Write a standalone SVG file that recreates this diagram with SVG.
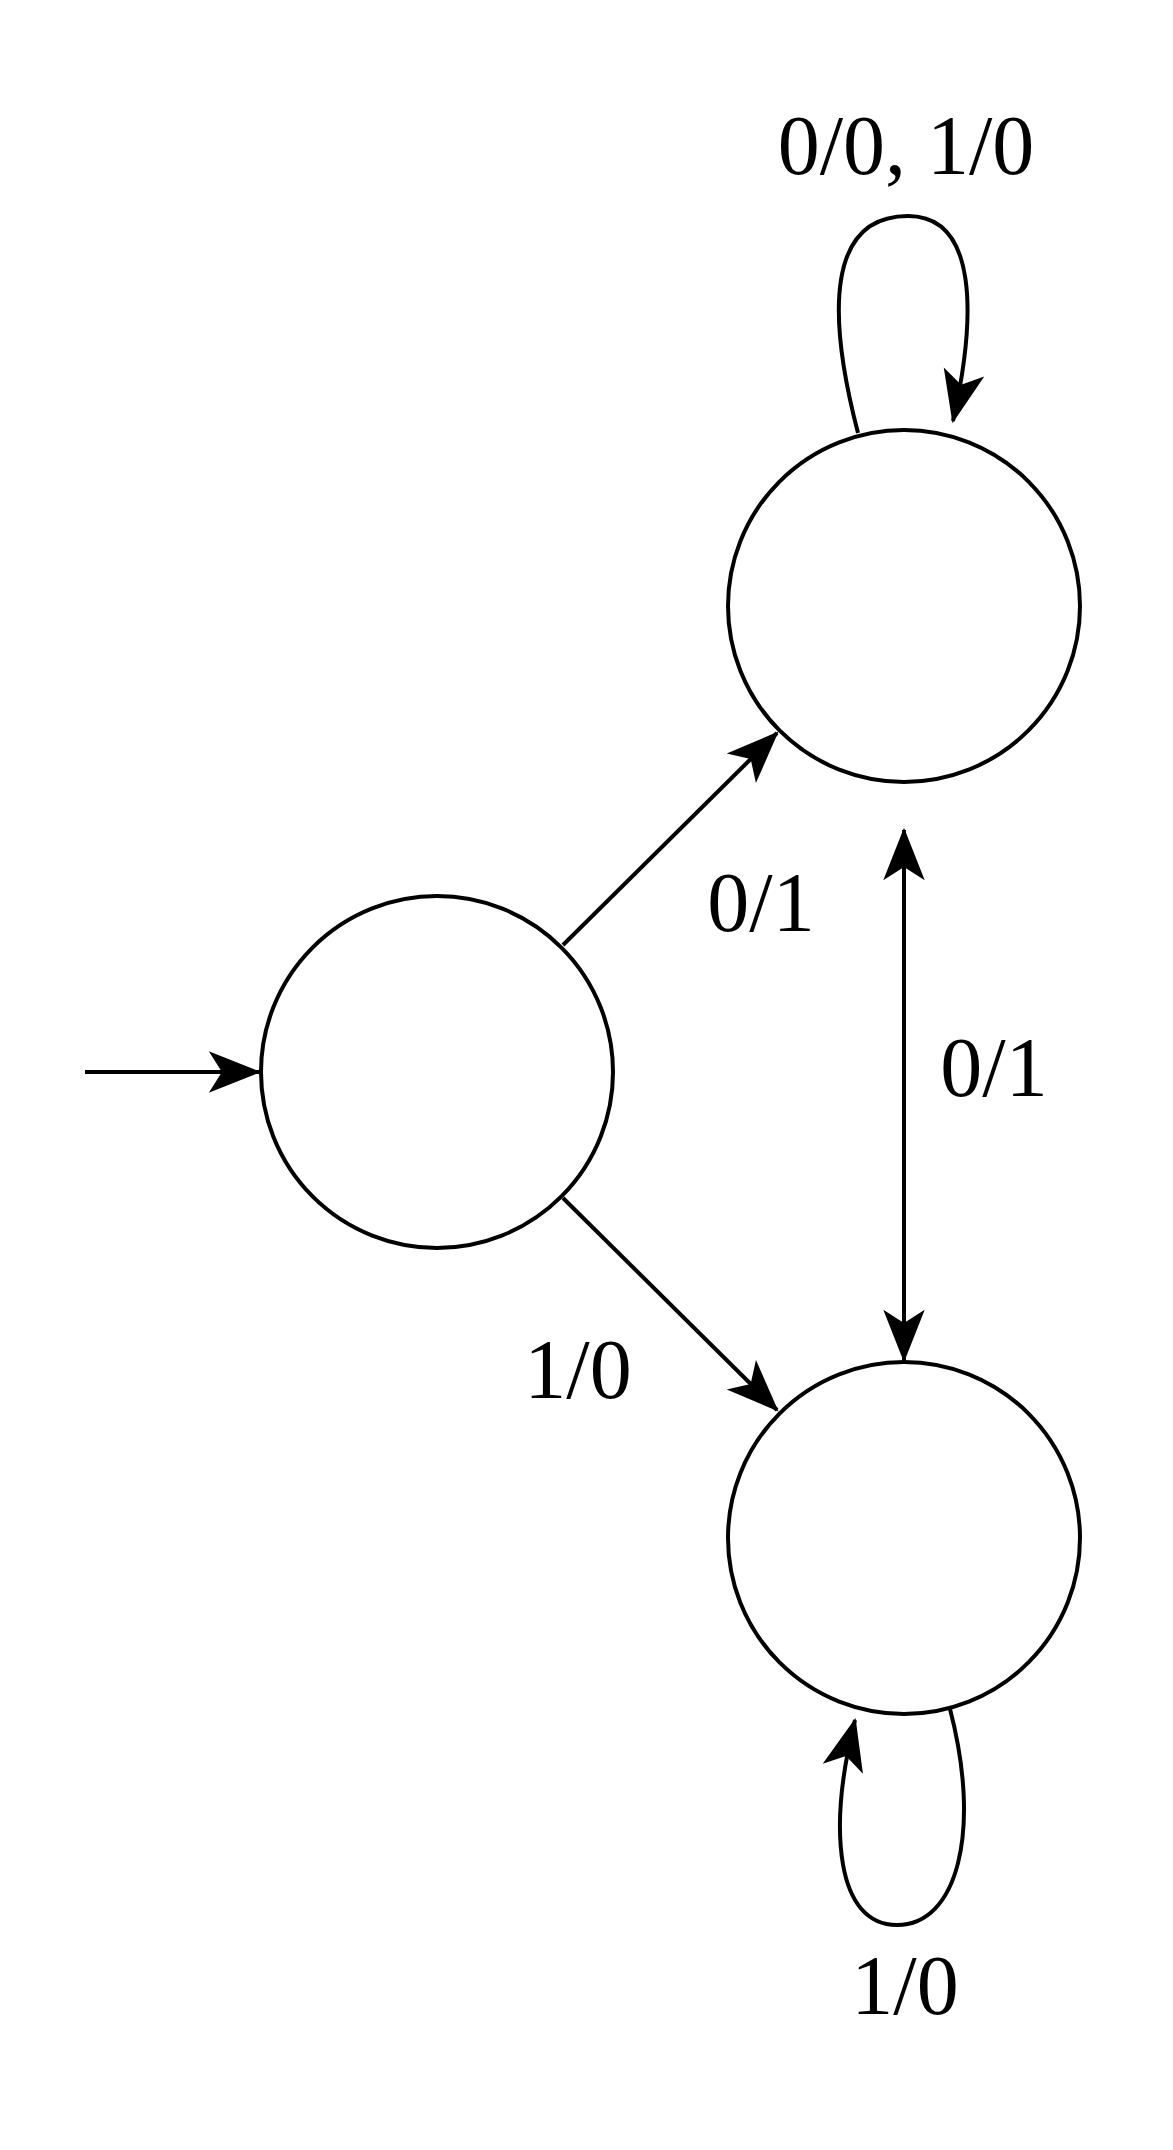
<svg xmlns="http://www.w3.org/2000/svg" width="1173" height="2150" viewBox="0 0 1173 2150">
<style>
.n{fill:none;stroke:#000;stroke-width:4}
.e{fill:none;stroke:#000;stroke-width:4;marker-end:url(#a)}
text{font-family:"Liberation Serif",serif;font-size:84px;fill:#000;text-anchor:middle}
</style>
<defs>
<marker id="a" markerUnits="userSpaceOnUse" markerWidth="60" markerHeight="60" viewBox="-50 -25 55 50" refX="0" refY="0" orient="auto">
<path d="M2,0 L-46,-19 L-34,0 L-46,19 Z" fill="#000"/>
</marker>
<marker id="s" markerUnits="userSpaceOnUse" markerWidth="60" markerHeight="60" viewBox="-50 -25 55 50" refX="0" refY="0" orient="auto-start-reverse">
<path d="M2,0 L-46,-19 L-34,0 L-46,19 Z" fill="#000"/>
</marker>
</defs>
<g id="nodeA"><circle class="n" cx="437" cy="1072" r="176"/></g>
<g id="nodeB"><circle class="n" cx="904" cy="606" r="176"/></g>
<g id="nodeC"><circle class="n" cx="904" cy="1538" r="176"/></g>
<g id="connectors">
<line class="e" x1="85" y1="1072" x2="259" y2="1072"/>
<line class="e" x1="563" y1="945" x2="777" y2="733"/>
<line class="e" x1="563" y1="1198" x2="777" y2="1410"/>
<line class="e" x1="904" y1="830" x2="904" y2="1360" marker-start="url(#s)" style="marker-start:url(#s)"/>
<path class="e" d="M858,433 C827,314 827,216 908,216 C977,216 977,314 953,421"/>
<path class="e" d="M950,1709 C982,1832 957,1925 897,1925 C837,1925 827,1832 855,1720"/>
</g>
<g id="labels">
<text x="906" y="174">0/0, 1/0</text>
<text x="761" y="931">0/1</text>
<text x="994" y="1096">0/1</text>
<text x="578" y="1398">1/0</text>
<text x="905" y="2014">1/0</text>
</g>
</svg>
